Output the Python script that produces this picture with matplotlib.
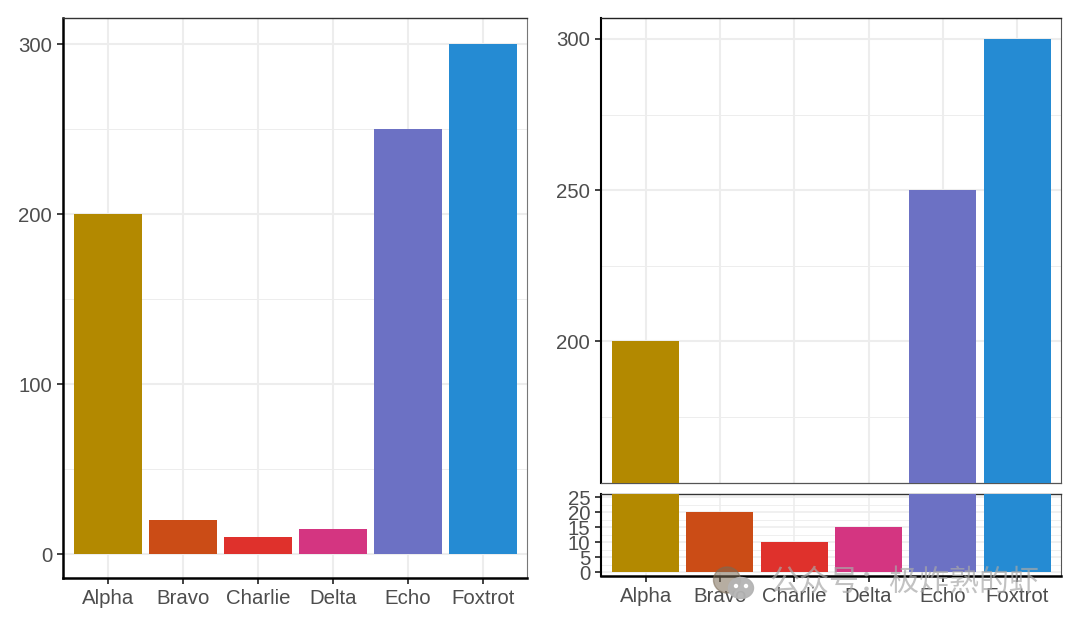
import matplotlib
matplotlib.use("Agg")
import matplotlib.pyplot as plt
from matplotlib.patches import Ellipse

plt.rcParams['font.family'] = ['Liberation Sans', 'Noto Sans CJK SC', 'DejaVu Sans']

categories = ["Alpha", "Bravo", "Charlie", "Delta", "Echo", "Foxtrot"]
values = [200, 20, 10, 15, 250, 300]
colors = ["#B38900", "#CB4C16", "#DF312C", "#D43581", "#6C71C4", "#258BD3"]

left_ticks = [0, 100, 200, 300]
left_minor = [50, 150, 250]
top_ticks = [200, 250, 300]
top_minor = [175, 225, 275]
low_ticks = [0, 5, 10, 15, 20, 25]
low_minor = [2.5, 7.5, 12.5, 17.5, 22.5]

W = 1080
H = 628
grid_col = "#EDEDED"
text_col = "#4D4D4D"


def make_axes(fig, x0, x1, y0, y1):
    # pixel box from the top left corner -> figure fractions
    return fig.add_axes([x0 / W, 1 - y1 / H, (x1 - x0) / W, (y1 - y0) / H])


def draw_panel(ax, ylim, ticks, minor, major_w=1.5, minor_w=0.7):
    ax.bar(range(len(values)), values, width=0.9, color=colors, zorder=3)
    ax.set_xlim(-0.6, 5.59)
    ax.set_ylim(*ylim)
    ax.set_yticks(ticks)
    ax.set_yticks(minor, minor=True)
    ax.set_xticks(range(len(categories)))
    ax.set_xticklabels(categories)
    ax.grid(True, which="major", color=grid_col, linewidth=major_w, zorder=0)
    ax.grid(True, which="minor", axis="y", color=grid_col, linewidth=minor_w, zorder=0)
    ax.tick_params(axis="both", which="major", labelsize=14.7, labelcolor=text_col,
                   color="#333333", length=4.3, width=1.3, pad=3.5)
    ax.tick_params(axis="both", which="minor", length=0)


fig = plt.figure(figsize=(W / 100, H / 100), dpi=100)

# left panel, full axis
ax1 = make_axes(fig, 63, 527, 18, 578)
draw_panel(ax1, (-14.1, 315.3), left_ticks, left_minor)
for side, lw, col in [("left", 1.8, "black"), ("bottom", 1.8, "black"),
                      ("top", 1.0, "#333333"), ("right", 0.8, "#777777")]:
    ax1.spines[side].set_linewidth(lw)
    ax1.spines[side].set_color(col)

# right top, axis cut at about 153
ax2 = make_axes(fig, 601, 1061, 18, 483)
draw_panel(ax2, (153.2, 306.9), top_ticks, top_minor)
ax2.tick_params(axis="x", which="both", bottom=False, labelbottom=False)
for side, lw, col in [("left", 1.5, "black"), ("bottom", 0.9, "#555555"),
                      ("top", 1.0, "#222222"), ("right", 0.8, "#555555")]:
    ax2.spines[side].set_linewidth(lw)
    ax2.spines[side].set_color(col)

# right bottom, zoomed on the small bars
ax3 = make_axes(fig, 601, 1061, 494, 576)
draw_panel(ax3, (-1.2, 26), low_ticks, low_minor, major_w=1.2, minor_w=0.6)
for side, lw, col in [("left", 1.5, "black"), ("bottom", 1.8, "black"),
                      ("top", 1.0, "#333333"), ("right", 0.8, "#555555")]:
    ax3.spines[side].set_linewidth(lw)
    ax3.spines[side].set_color(col)

# watermark over the lower right labels
fig.text(769 / W, 1 - 583 / H, "公众号：极炸熟的虾", fontsize=21.6, color="#A8A8A8",
         alpha=0.7, ha="left", va="center", zorder=10)
fig.add_artist(Ellipse((727 / W, 1 - 580 / H), 27 / W, 26 / H, color="#7A6A55", alpha=0.55,
                       transform=fig.transFigure, zorder=10))
fig.add_artist(Ellipse((741 / W, 1 - 588 / H), 25 / W, 21 / H, color="#B4B4B4", alpha=0.95,
                       transform=fig.transFigure, zorder=11))
for dot_x in [736, 746]:
    fig.add_artist(Ellipse((dot_x / W, 1 - 586 / H), 3 / W, 3 / H, color="white",
                           transform=fig.transFigure, zorder=12))

fig.savefig("out.png", dpi=100)
